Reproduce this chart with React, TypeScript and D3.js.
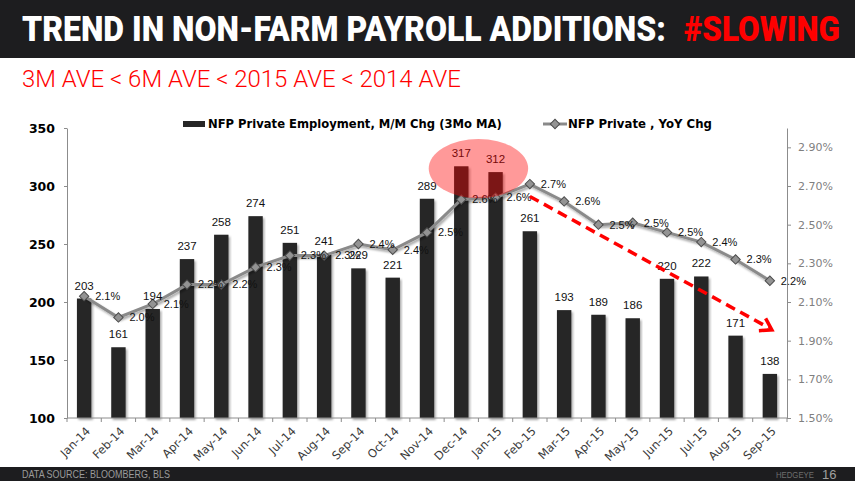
import { useEffect, useRef } from 'react';
import * as d3 from 'd3';

// monthly categories (x axis)
const months = [
  'Jan-14', 'Feb-14', 'Mar-14', 'Apr-14', 'May-14', 'Jun-14', 'Jul-14',
  'Aug-14', 'Sep-14', 'Oct-14', 'Nov-14', 'Dec-14', 'Jan-15', 'Feb-15',
  'Mar-15', 'Apr-15', 'May-15', 'Jun-15', 'Jul-15', 'Aug-15', 'Sep-15',
];

// NFP Private Employment, M/M Chg (3Mo MA), thousands
const payrollAdds = [203, 161, 194, 237, 258, 274, 251, 241, 229, 221, 289, 317, 312, 261, 193, 189, 186, 220, 222, 171, 138];

// NFP Private, YoY Chg (%)
const yoyChange = [2.13, 2.02, 2.09, 2.19, 2.19, 2.28, 2.34, 2.34, 2.40, 2.37, 2.46, 2.63, 2.64, 2.71, 2.62, 2.50, 2.51, 2.46, 2.41, 2.32, 2.21];

const leftTicks = [100, 150, 200, 250, 300, 350];
const rightTicks = [1.5, 1.7, 1.9, 2.1, 2.3, 2.5, 2.7, 2.9];

const W = 855;
const H = 481;

// squeeze/stretch a text horizontally so it spans the given width
function fitText(sel: any, x: number, y: number, width: number) {
  const len = (sel.node() as SVGTextElement).getComputedTextLength() || width;
  sel.attr('transform', `translate(${x},${y}) scale(${width / len},1)`);
  return sel;
}

export default function App() {
  const svgRef = useRef<SVGSVGElement>(null);

  useEffect(() => {
    const svg = d3.select(svgRef.current);
    svg.selectAll('*').remove();

    const plot = { left: 67, right: 787, top: 128, bottom: 418 };

    // scales
    const x = d3.scaleBand<string>()
      .domain(months)
      .range([plot.left, plot.right])
      .paddingInner(0.58)
      .paddingOuter(0.29);
    const cx = (m: string) => (x(m) as number) + x.bandwidth() / 2;

    const yL = d3.scaleLinear().domain([100, 350]).range([plot.bottom, plot.top]);
    const yR = d3.scaleLinear().domain([1.5, 3.0]).range([plot.bottom, plot.top]);

    const defs = svg.append('defs');
    const shadow = defs.append('filter').attr('id', 'shadow')
      .attr('x', '-20%').attr('y', '-20%').attr('width', '140%').attr('height', '140%');
    shadow.append('feDropShadow')
      .attr('dx', 1.5).attr('dy', 2).attr('stdDeviation', 1.2)
      .attr('flood-color', '#000').attr('flood-opacity', 0.35);

    // header band
    svg.append('rect').attr('x', 0).attr('y', 0).attr('width', W).attr('height', 58).attr('fill', '#1d1d1f');
    fitText(svg.append('text')
      .style('font-family', 'Roboto, Inter, sans-serif').style('font-weight', 900)
      .style('font-size', '35px').attr('fill', '#ffffff')
      .text('TREND IN NON-FARM PAYROLL ADDITIONS:'), 22, 41, 644);
    fitText(svg.append('text')
      .style('font-family', 'Roboto, Inter, sans-serif').style('font-weight', 900)
      .style('font-size', '35px').attr('fill', '#ff0000')
      .text('#SLOWING'), 684, 41, 156);

    // subtitle
    fitText(svg.append('text')
      .style('font-family', 'Roboto, sans-serif').style('font-weight', 300)
      .style('font-size', '24px').attr('fill', '#ff0000')
      .text('3M AVE < 6M AVE < 2015 AVE < 2014 AVE'), 22, 87, 439);

    // bars
    svg.append('g')
      .selectAll('rect')
      .data(months)
      .enter()
      .append('rect')
      .attr('x', d => x(d) as number)
      .attr('y', (d, i) => yL(payrollAdds[i]))
      .attr('width', x.bandwidth())
      .attr('height', (d, i) => plot.bottom - yL(payrollAdds[i]))
      .attr('fill', '#262626')
      .attr('filter', 'url(#shadow)');

    // left axis
    const gL = svg.append('g')
      .attr('transform', `translate(${plot.left},0)`)
      .call(d3.axisLeft(yL).tickValues(leftTicks).tickSize(3).tickSizeOuter(0).tickPadding(9));
    gL.selectAll('path, line').attr('stroke', '#8c8c8c');
    gL.selectAll('text')
      .style('font-family', '"DejaVu Sans", sans-serif').style('font-weight', 700)
      .style('font-size', '12.5px').attr('fill', '#000');

    // right axis
    const gR = svg.append('g')
      .attr('transform', `translate(${plot.right},0)`)
      .call(d3.axisRight(yR).tickValues(rightTicks).tickSize(4).tickSizeOuter(0).tickPadding(7)
        .tickFormat(d => `${(+d).toFixed(2)}%`));
    gR.selectAll('path, line').attr('stroke', '#8c8c8c');
    gR.selectAll('text')
      .style('font-family', '"DejaVu Sans", sans-serif')
      .style('font-size', '11px').attr('fill', '#7f7f7f');

    // bottom axis: line, ticks at category boundaries, rotated labels
    const gB = svg.append('g');
    gB.append('line')
      .attr('x1', plot.left).attr('x2', plot.right)
      .attr('y1', plot.bottom).attr('y2', plot.bottom)
      .attr('stroke', '#8c8c8c');
    const gap = (x.step() - x.bandwidth()) / 2;
    const bounds = months.map(m => (x(m) as number) - gap).concat([plot.right]);
    gB.selectAll('line.tick')
      .data(bounds)
      .enter()
      .append('line')
      .attr('class', 'tick')
      .attr('x1', d => d).attr('x2', d => d)
      .attr('y1', plot.bottom).attr('y2', plot.bottom + 4)
      .attr('stroke', '#8c8c8c');
    gB.selectAll('text')
      .data(months)
      .enter()
      .append('text')
      .attr('transform', d => `translate(${cx(d) + 4},${plot.bottom + 11}) rotate(-45)`)
      .attr('text-anchor', 'end')
      .attr('dy', '0.35em')
      .style('font-family', '"DejaVu Sans", sans-serif')
      .style('font-size', '11.5px').attr('fill', '#3a3a3a')
      .text(d => d);

    // YoY line
    const line = d3.line<number>()
      .x((d, i) => cx(months[i]))
      .y(d => yR(d));
    svg.append('path')
      .datum(yoyChange)
      .attr('fill', 'none')
      .attr('stroke', '#8a8a8a')
      .attr('stroke-width', 3)
      .attr('filter', 'url(#shadow)')
      .attr('d', line);

    const diamond = d3.symbol().type(d3.symbolSquare).size(44);
    svg.append('g')
      .selectAll('path')
      .data(yoyChange)
      .enter()
      .append('path')
      .attr('d', diamond)
      .attr('transform', (d, i) => `translate(${cx(months[i])},${yR(d)}) rotate(45)`)
      .attr('fill', '#939393')
      .attr('stroke', '#4d4d4d')
      .attr('stroke-width', 1);

    // bar value labels
    svg.append('g')
      .selectAll('text')
      .data(payrollAdds)
      .enter()
      .append('text')
      .attr('x', (d, i) => cx(months[i]))
      .attr('y', d => yL(d) - 9)
      .attr('text-anchor', 'middle')
      .style('font-family', '"Liberation Sans", Arial, sans-serif')
      .style('font-size', '11.5px').attr('fill', '#111')
      .text(d => d);

    // YoY labels
    svg.append('g')
      .selectAll('text')
      .data(yoyChange)
      .enter()
      .append('text')
      .attr('x', (d, i) => cx(months[i]) + 11)
      .attr('y', d => yR(d))
      .attr('dy', '0.35em')
      .style('font-family', '"Liberation Sans", Arial, sans-serif')
      .style('font-size', '11px').attr('fill', '#111')
      .text(d => `${d.toFixed(1)}%`);

    // highlight ellipse on the Dec-14 / Jan-15 peak
    const peakX = ((x('Dec-14') as number) + (x('Jan-15') as number) + x.bandwidth()) / 2;
    svg.append('ellipse')
      .attr('cx', peakX)
      .attr('cy', yL(315))
      .attr('rx', x.step() * 1.45)
      .attr('ry', yL(100) - yL(125.5))
      .attr('fill', 'rgba(255,0,0,0.4)');

    // dashed trend arrow
    const ax1 = cx('Feb-15'), ay1 = yL(291);
    const ax2 = cx('Sep-15') + 2, ay2 = yL(176);
    svg.append('line')
      .attr('x1', ax1).attr('y1', ay1)
      .attr('x2', ax2 - 3).attr('y2', ay2 - 2)
      .attr('stroke', '#ff0000')
      .attr('stroke-width', 3.5)
      .attr('stroke-dasharray', '10,6');
    const ang = Math.atan2(ay2 - ay1, ax2 - ax1);
    const head = 13;
    const arms = [ang + Math.PI * 0.82, ang - Math.PI * 0.82].map(a => [ax2 + head * Math.cos(a), ay2 + head * Math.sin(a)]);
    svg.append('path')
      .attr('d', `M${arms[0][0]},${arms[0][1]} L${ax2},${ay2} L${arms[1][0]},${arms[1][1]}`)
      .attr('fill', 'none')
      .attr('stroke', '#ff0000')
      .attr('stroke-width', 3.5)
      .attr('stroke-linejoin', 'miter');

    // legend
    const lg = svg.append('g').style('font-family', '"DejaVu Sans", sans-serif')
      .style('font-weight', 700).style('font-size', '11.5px');
    lg.append('rect').attr('x', 183).attr('y', 121).attr('width', 22).attr('height', 6).attr('fill', '#262626');
    fitText(lg.append('text').attr('fill', '#000')
      .text('NFP Private Employment, M/M Chg (3Mo MA)'), 208, 128, 294);
    lg.append('line').attr('x1', 543).attr('x2', 567).attr('y1', 124).attr('y2', 124)
      .attr('stroke', '#8a8a8a').attr('stroke-width', 3);
    lg.append('path').attr('d', diamond).attr('transform', 'translate(555,124) rotate(45)')
      .attr('fill', '#939393').attr('stroke', '#4d4d4d');
    fitText(lg.append('text').attr('fill', '#000')
      .text('NFP Private , YoY Chg'), 568, 128, 144);

    // footer band
    svg.append('rect').attr('x', 0).attr('y', 467).attr('width', W).attr('height', H - 467).attr('fill', '#1d1d1f');
    fitText(svg.append('text')
      .style('font-family', '"Liberation Sans Narrow", "Liberation Sans", sans-serif')
      .style('font-size', '10px').attr('fill', '#9b9b9b')
      .text('DATA SOURCE: BLOOMBERG, BLS'), 22, 478, 148);
    fitText(svg.append('text')
      .style('font-family', '"Liberation Sans", sans-serif')
      .style('font-size', '9px').attr('fill', '#6e6e6e')
      .text('HEDGEYE'), 776, 478, 38);
    svg.append('text').attr('x', 822).attr('y', 479)
      .style('font-family', '"Liberation Sans", sans-serif')
      .style('font-size', '13px').attr('fill', '#a0a0a0')
      .text('16');
  }, []);

  return (
    <div style={{ position: 'absolute', left: 0, top: 0, width: W, height: H, background: '#fff' }}>
      <svg ref={svgRef} width={W} height={H}></svg>
    </div>
  );
}
